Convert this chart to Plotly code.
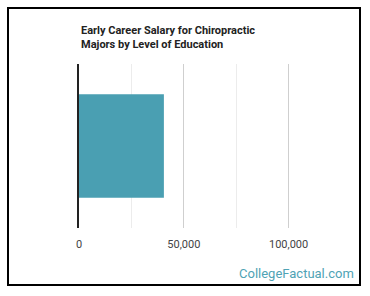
import plotly.graph_objects as go

categories = ["Bachelor's Degree"]
salaries = [40500]
tick_vals = [0, 50000, 100000]
tick_text = ["0", "50,000", "100,000"]
title_text = "Early Career Salary for Chiropractic<br>Majors by Level of Education"
watermark = "CollegeFactual.com"

W, H = 370, 296
L, R, T, B = 79, 29, 64, 68
pw, ph = W - L - R, H - T - B

def px_x(x):
    return (x - L) / pw

def px_y(y):
    return (H - B - y) / ph

fig = go.Figure()
fig.add_trace(go.Bar(
    y=categories, x=salaries, orientation="h",
    marker=dict(color="#4a9fb2", line=dict(width=0)),
    width=0.63, hoverinfo="skip",
))

fig.update_layout(
    width=W, height=H,
    margin=dict(l=L, r=R, t=T, b=B),
    paper_bgcolor="white", plot_bgcolor="white",
    showlegend=False,
    font=dict(family="Roboto, Arial, sans-serif", color="#333"),
    xaxis=dict(
        range=[0, 125000],
        tickvals=tick_vals, ticktext=tick_text,
        showgrid=True, gridcolor="#cfcfcf", gridwidth=1,
        minor=dict(dtick=25000, tick0=0, showgrid=True, gridcolor="#ececec", gridwidth=1),
        zeroline=False, showline=False,
        ticks="outside", ticklen=6, tickcolor="rgba(0,0,0,0)",
        tickfont=dict(size=11, color="#444"),
        fixedrange=True,
    ),
    yaxis=dict(
        showticklabels=False, showgrid=False, zeroline=False,
        showline=True, linecolor="#222", linewidth=1.5,
        range=[-0.5, 0.5], fixedrange=True,
    ),
    shapes=[dict(
        type="rect", xref="paper", yref="paper",
        x0=px_x(8), x1=px_x(360), y0=px_y(285), y1=px_y(8),
        line=dict(color="black", width=2), fillcolor="rgba(0,0,0,0)",
        layer="above",
    )],
    annotations=[
        dict(text="<b>" + title_text + "</b>", xref="paper", yref="paper",
             x=0, y=px_y(22), xanchor="left", yanchor="top", align="left",
             showarrow=False, font=dict(size=11, color="#222")),
        dict(text=watermark, xref="paper", yref="paper",
             x=px_x(356), y=px_y(273), xanchor="right", yanchor="middle",
             showarrow=False, font=dict(size=13, color="#4fa3b5")),
    ],
)

fig.write_html("out.html")
